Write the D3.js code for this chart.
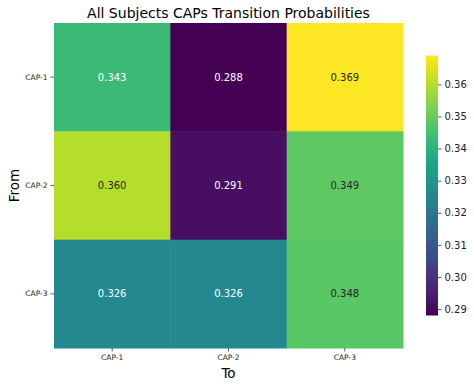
<!DOCTYPE html>
<html>
<head>
<meta charset="utf-8">
<script src="https://cdn.jsdelivr.net/npm/d3@7"></script>
<style>
  body { margin: 0; background: #fff; }
  text { font-family: "DejaVu Sans", sans-serif; }
</style>
</head>
<body>
<div id="chart"></div>
<script>
// data
const fromLabels = ['CAP-1', 'CAP-2', 'CAP-3'];
const toLabels = ['CAP-1', 'CAP-2', 'CAP-3'];
const probs = [
  [0.343, 0.288, 0.369],
  [0.360, 0.291, 0.349],
  [0.326, 0.326, 0.348]
];
const cbTicks = [0.29, 0.30, 0.31, 0.32, 0.33, 0.34, 0.35, 0.36];
// whiter text on the darker cells, like seaborn does
const darkText = [
  [false, false, true],
  [true, false, true],
  [false, false, true]
];

const W = 474, H = 387;
const plot = {left: 54, right: 403, top: 23, bottom: 348};

const flat = probs.flat();
const vmin = d3.min(flat), vmax = d3.max(flat);
const color = d3.scaleSequential(d3.interpolateViridis).domain([vmin, vmax]);

const svg = d3.select('#chart').append('svg')
  .attr('width', W).attr('height', H);

const x = d3.scaleBand().domain(toLabels).range([plot.left, plot.right]);
const y = d3.scaleBand().domain(fromLabels).range([plot.top, plot.bottom]);

// cells
const rows = svg.selectAll('.row')
  .data(probs)
  .enter().append('g')
  .attr('class', 'row');

rows.each(function(row, i){
  const g = d3.select(this);
  g.selectAll('rect')
    .data(row)
    .enter().append('rect')
    .attr('x', (d, j) => x(toLabels[j]))
    .attr('y', y(fromLabels[i]))
    .attr('width', x.bandwidth() + 0.5)
    .attr('height', y.bandwidth() + 0.5)
    .attr('fill', d => color(d));

  g.selectAll('text')
    .data(row)
    .enter().append('text')
    .attr('x', (d, j) => x(toLabels[j]) + x.bandwidth() / 2)
    .attr('y', y(fromLabels[i]) + y.bandwidth() / 2)
    .attr('dy', '0.35em')
    .attr('text-anchor', 'middle')
    .style('font-size', '10px')
    .attr('fill', (d, j) => darkText[i][j] ? '#262626' : '#ffffff')
    .text(d => d.toFixed(3));
});

// axes
const xAxis = svg.append('g')
  .attr('transform', `translate(0,${plot.bottom})`)
  .call(d3.axisBottom(x).tickSize(3.5).tickPadding(3));
xAxis.select('.domain').remove();

const yAxis = svg.append('g')
  .attr('transform', `translate(${plot.left},0)`)
  .call(d3.axisLeft(y).tickSize(3.5).tickPadding(3));
yAxis.select('.domain').remove();

svg.selectAll('.tick text')
  .style('font-family', '"DejaVu Sans", sans-serif')
  .style('font-size', '7.5px')
  .attr('fill', '#222');
svg.selectAll('.tick line').attr('stroke', '#333').attr('stroke-width', 0.8);

// title and labels
svg.append('text')
  .attr('x', (plot.left + plot.right) / 2)
  .attr('y', 18)
  .attr('text-anchor', 'middle')
  .style('font-size', '14px')
  .text('All Subjects CAPs Transition Probabilities');

svg.append('text')
  .attr('x', (plot.left + plot.right) / 2)
  .attr('y', 377.5)
  .attr('text-anchor', 'middle')
  .style('font-size', '13.5px')
  .text('To');

svg.append('text')
  .attr('transform', `translate(19,${(plot.top + plot.bottom) / 2}) rotate(-90)`)
  .attr('text-anchor', 'middle')
  .style('font-size', '13.5px')
  .text('From');

// colorbar
const cb = {x: 426, w: 12, top: 55.5, bottom: 315.5};
const cbScale = d3.scaleLinear().domain([vmin, vmax]).range([cb.bottom, cb.top]);

const defs = svg.append('defs');
const grad = defs.append('linearGradient')
  .attr('id', 'cbgrad')
  .attr('x1', 0).attr('y1', 1).attr('x2', 0).attr('y2', 0);
d3.range(0, 1.001, 0.05).forEach(t => {
  grad.append('stop')
    .attr('offset', t)
    .attr('stop-color', d3.interpolateViridis(t));
});

svg.append('rect')
  .attr('x', cb.x).attr('y', cb.top)
  .attr('width', cb.w).attr('height', cb.bottom - cb.top)
  .attr('fill', 'url(#cbgrad)');

const cbAxis = svg.append('g')
  .attr('transform', `translate(${cb.x + cb.w},0)`)
  .call(d3.axisRight(cbScale).tickValues(cbTicks).tickFormat(d3.format('.2f')).tickSize(3.5).tickPadding(3));
cbAxis.select('.domain').remove();
cbAxis.selectAll('.tick text')
  .style('font-size', '10px')
  .attr('fill', '#222');
cbAxis.selectAll('.tick line').attr('stroke', '#333').attr('stroke-width', 0.8);
</script>
</body>
</html>
